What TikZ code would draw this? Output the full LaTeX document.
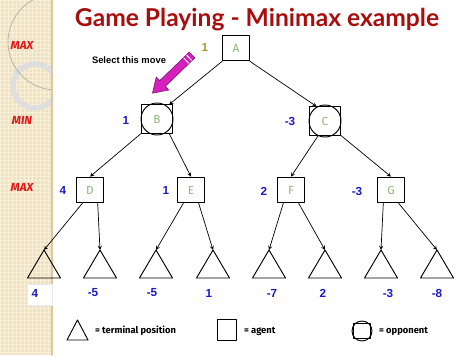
\documentclass[tikz,border=0pt]{standalone}
\usepackage{fontspec}
\setmainfont{Liberation Sans}
\newfontfamily\titlefont{Lato}
\newfontfamily\handfont{Fira Sans}
\definecolor{stripbg}{RGB}{240,226,192}
\definecolor{gridline}{RGB}{249,240,218}
\definecolor{stripedge}{RGB}{218,200,160}
\definecolor{titlered}{RGB}{168,14,14}
\definecolor{lvlred}{RGB}{226,22,22}
\definecolor{valblue}{RGB}{26,26,200}
\definecolor{lettergreen}{RGB}{140,184,120}
\definecolor{olive}{RGB}{168,152,52}
\definecolor{pencil}{RGB}{214,32,190}
\tikzset{
	agent/.style={draw, thick, fill=white, minimum width=23pt, minimum height=22pt,
		inner sep=0pt, text=lettergreen, font=\handfont\normalsize},
	opp/.style={agent, minimum width=26.5pt, minimum height=24pt},
	val/.style={text=valblue, font=\bfseries\normalsize},
	lvl/.style={text=lvlred, font=\handfont\bfseries\itshape\normalsize},
	legend/.style={anchor=west, font=\handfont\bfseries\footnotesize},
	edge/.style={->, semithick},
}
\begin{document}
\begin{tikzpicture}[x=0.3mm, y=-0.3mm, >=stealth, line join=round, line cap=round]
		\useasboundingbox (0,0) rectangle (474,355);
		% Dai ben trai
		\fill[stripbg] (0,0) rectangle (52,355);
		\begin{scope}
			\clip (0,0) rectangle (52,355);
			\foreach \i in {0,4,...,52}
				\draw[gridline, line width=0.4pt] (\i,0) -- (\i,355);
			\foreach \j in {0,4,...,352}
				\draw[gridline, line width=0.4pt] (0,\j) -- (52,\j);
			\draw[black!13, line width=4.5pt] (35,86) circle (22);
			\draw[gray!70, line width=0.5pt] (56,42) circle (48);
		\end{scope}
		\draw[stripedge, line width=1.2pt] (52,0) -- (52,355);
		\node[lvl] (max1) at (22,45) {MAX};
		\node[lvl] (min1) at (22,120) {MIN};
		\node[lvl] (max2) at (22,187) {MAX};
		% Tieu de
		\node[text=titlered, font=\titlefont\bfseries\fontsize{21}{25}\selectfont] (title) at (257,20) {Game Playing - Minimax example};
		% Cac nut
		\node[agent] (A) at (236,48) {A};
		\node[opp] (B) at (157,119) {B};
		\node[opp] (C) at (325,121) {C};
		\node[agent] (D) at (90,190) {D};
		\node[agent] (E) at (191,190) {E};
		\node[agent] (F) at (291,190) {F};
		\node[agent] (G) at (391,190) {G};
		\foreach \n in {B,C}
			\draw[thick] (\n.center) circle (16);
		% La
		\foreach \x [count=\i] in {44,100,156,213,269,325,381,437} {
			\coordinate (t\i) at (\x,250);
			\draw[thick] (t\i) -- ++(-16.5,28) -- ++(33,0) -- cycle;
		}
		% Canh
		\draw[edge] (A.south west) -- (B.50);
		\draw[edge] (A.south east) -- (C.120);
		\draw[edge] (B.south west) -- (D.north);
		\draw[edge] (B.-50) -- (E.north);
		\draw[edge] (C.-115) -- (F.north);
		\draw[edge] (C.south east) -- (G.north);
		\foreach \n/\a/\b in {D/1/2, E/3/4, F/5/6, G/7/8} {
			\draw[edge] (\n.240) -- (t\a);
			\draw[edge] (\n.300) -- (t\b);
		}
		% Gia tri
		\node[val, text=olive] (vA) at (205,47) {1};
		\node[val] (vB) at (126,120) {1};
		\node[val] (vC) at (290,121) {-3};
		\node[val] (vD) at (63,190) {4};
		\node[val] (vE) at (166,190) {1};
		\node[val] (vF) at (264,191) {2};
		\node[val] (vG) at (357,191) {-3};
		\fill[white] (27,284) rectangle (52,305);
		\draw[black!8] (27,284) rectangle (52,305);
		\foreach \x/\v [count=\i] in {35/4, 93/-5, 152/-5, 209/1, 272/-7, 323/2, 388/-3, 437/-8}
			\node[val] (v\i) at (\x,293) {\v};
		% Mui ten chon nuoc di
		\node[font=\bfseries\footnotesize] (sel) at (129,60) {Select this move};
		\begin{scope}[shift={(192,55)}, rotate=224]
			\filldraw[fill=pencil, draw=pencil!60!black, line width=0.5pt]
				(0,-4) -- (41,-4) -- (41,-9) -- (55,0) -- (41,9) -- (41,4) -- (0,4) -- cycle;
			\foreach \s in {4,8}
				\draw[white, line width=0.8pt] (\s,-3.5) -- (\s,3.5);
		\end{scope}
		% Chu thich
		\draw[thick] (67,340) -- (77.5,320) -- (88,340) -- cycle;
		\node[legend] (lg1) at (91,331) {= terminal position};
		\node[agent, minimum width=17pt, minimum height=18pt] (lgA) at (227,330) {};
		\node[legend] (lg2) at (240,331) {= agent};
		\node[agent, minimum width=15pt, minimum height=13pt] (lgO) at (362,331) {};
		\draw[thick] (lgO.center) circle (10);
		\node[legend] (lg3) at (375,331) {= opponent};
	\end{tikzpicture}
\end{document}
